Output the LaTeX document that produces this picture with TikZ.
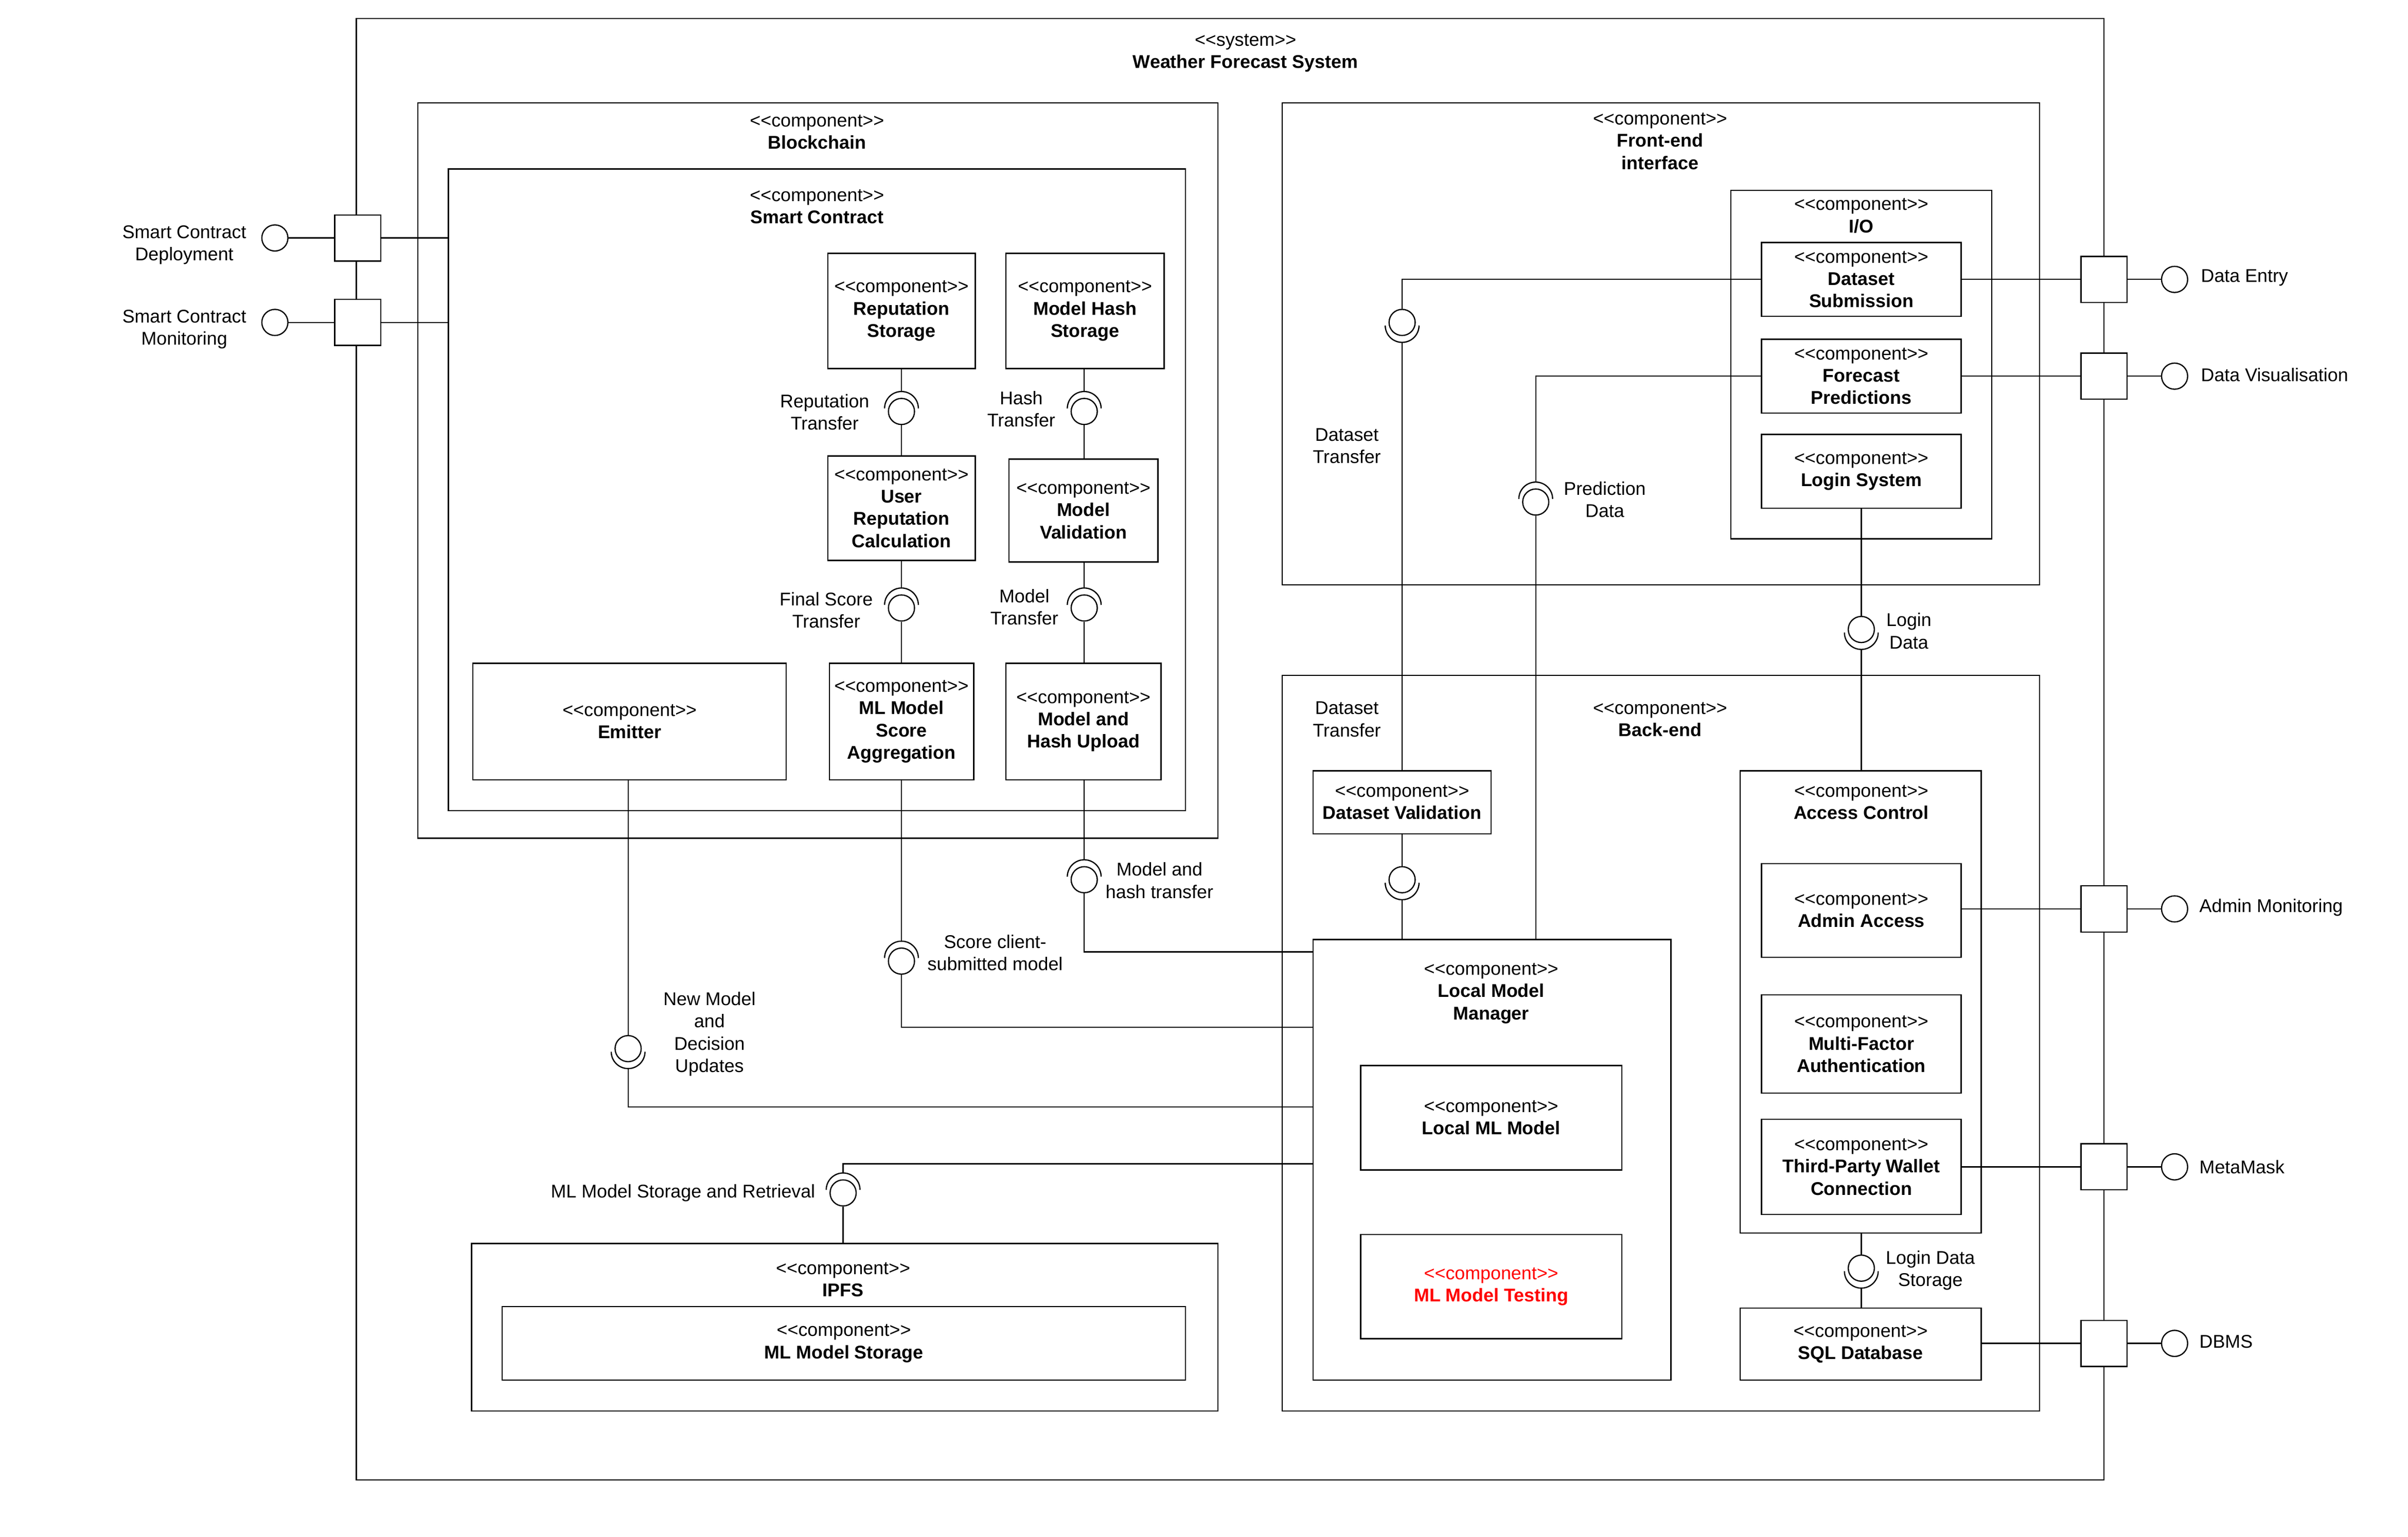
\documentclass[tikz,border=0pt]{standalone}
\usepackage{fontspec}
\setmainfont{Liberation Sans}
\usetikzlibrary{calc}
\newcommand\ltlt{<\kern0pt<}
\newcommand\gtgt{>\kern0pt>}
\newcommand\cmp{\ltlt component\gtgt}
\definecolor{mlred}{RGB}{255,0,0}
\tikzset{
  ln/.style={draw=black, line width=0.8pt},
  box/.style={draw=black, line width=0.8pt, fill=white, rectangle, inner sep=2pt, align=center},
  ttl/.style={align=center, inner sep=0pt},
  lbl/.style={align=center, inner sep=0pt},
  port/.style={draw=black, line width=0.8pt, fill=white, rectangle, minimum size=30pt, inner sep=0pt},
  lolli/.style={draw=black, line width=0.8pt, fill=white, circle, minimum size=17pt, inner sep=0pt},
}
% socket with arc above the ball
\newcommand\socktop[3]{%
  \node[lolli] (#1) at (#2,#3) {};
  \coordinate (#1-a) at (#2,#3-13);
  \draw[ln] (#2-11,#3-2) arc[start angle=180,end angle=360,radius=11];
}
% socket with arc below the ball
\newcommand\sockbot[3]{%
  \node[lolli] (#1) at (#2,#3) {};
  \coordinate (#1-a) at (#2,#3+13);
  \draw[ln] (#2-11,#3+2) arc[start angle=180,end angle=0,radius=11];
}
\begin{document}
\begin{tikzpicture}[x=1pt,y=-1pt,font=\fontsize{12}{14.5}\selectfont]
\useasboundingbox (0,0) rectangle (1568,1001);
\fill[white] (0,0) rectangle (1568,1001);

% ---------- system ----------
\node[box, minimum width=1138pt, minimum height=952pt] (sys) at (801,488) {};
\node[ttl] (systl) at (811,34.5) {\ltlt system\gtgt\\\textbf{Weather Forecast System}};

% ---------- containers ----------
\node[box, minimum width=521pt, minimum height=479pt] (bc) at (532.5,306.5) {};
\node[ttl] (bctl) at (532,86) {\cmp\\\textbf{Blockchain}};
\node[box, minimum width=480pt, minimum height=418pt] (sc) at (532,319) {};
\node[ttl] (sctl) at (532,134.5) {\cmp\\\textbf{Smart Contract}};

\node[box, minimum width=493pt, minimum height=314pt] (fe) at (1081.5,224) {};
\node[ttl] (fetl) at (1081,92) {\cmp\\\textbf{Front-end}\\\textbf{interface}};
\node[box, minimum width=170pt, minimum height=227pt] (io) at (1212,237.5) {};
\node[ttl] (iotl) at (1212,140.5) {\cmp\\\textbf{I/O}};

\node[box, minimum width=493pt, minimum height=479pt] (be) at (1081.5,679.5) {};
\node[ttl] (betl) at (1081,468.5) {\cmp\\\textbf{Back-end}};

\node[box, minimum width=486pt, minimum height=109pt] (ipfs) at (550,864.5) {};
\node[ttl] (ipfstl) at (549,833.5) {\cmp\\\textbf{IPFS}};

% ---------- ports ----------
\node[port] (pSCD) at (233,155) {};
\node[port] (pSCM) at (233,210) {};
\node[lolli] (lSCD) at (179,155) {};
\node[lolli] (lSCM) at (179,210) {};
\node[lbl] (tSCD) at (120,159.5) {Smart Contract\\Deployment};
\node[lbl] (tSCM) at (120,214.5) {Smart Contract\\Monitoring};

\node[port] (pDE) at (1370,182) {};
\node[port] (pDV) at (1370,245) {};
\node[port] (pAM) at (1370,592) {};
\node[port] (pMM) at (1370,760) {};
\node[port] (pDB) at (1370,875) {};
\node[lolli] (lDE) at (1416,182) {};
\node[lolli] (lDV) at (1416,245) {};
\node[lolli] (lAM) at (1416,592) {};
\node[lolli] (lMM) at (1416,760) {};
\node[lolli] (lDB) at (1416,875) {};
\node[lbl, anchor=west] (tDE) at (1433,181) {Data Entry};
\node[lbl, anchor=west] (tDV) at (1433,244) {Data Visualisation};
\node[lbl, anchor=west] (tAM) at (1432,591) {Admin Monitoring};
\node[lbl, anchor=west] (tMM) at (1432,760) {MetaMask};
\node[lbl, anchor=west] (tDB) at (1432,874) {DBMS};

% ---------- blockchain components ----------
\node[box, minimum width=96pt, minimum height=75pt] (rs) at (587,202.5) {\cmp\\\textbf{Reputation}\\\textbf{Storage}};
\node[box, minimum width=103pt, minimum height=75pt] (mhs) at (706.5,202.5) {\cmp\\\textbf{Model Hash}\\\textbf{Storage}};
\node[box, minimum width=96pt, minimum height=68pt] (urc) at (587,331) {\cmp\\\textbf{User}\\\textbf{Reputation}\\\textbf{Calculation}};
\node[box, minimum width=97pt, minimum height=67pt] (mv) at (705.5,332.5) {\cmp\\\textbf{Model}\\\textbf{Validation}};
\node[box, minimum width=204pt, minimum height=76pt] (em) at (410,470) {\cmp\\\textbf{Emitter}};
\node[box, minimum width=94pt, minimum height=76pt] (mlsa) at (587,470) {\cmp\\\textbf{ML Model}\\\textbf{Score}\\\textbf{Aggregation}};
\node[box, minimum width=101pt, minimum height=76pt] (mhu) at (705.5,470) {\cmp\\\textbf{Model and}\\\textbf{Hash Upload}};

% ---------- front-end components ----------
\node[box, minimum width=130pt, minimum height=48pt] (ds) at (1212,182) {\cmp\\\textbf{Dataset}\\\textbf{Submission}};
\node[box, minimum width=130pt, minimum height=48pt] (fp) at (1212,245) {\cmp\\\textbf{Forecast}\\\textbf{Predictions}};
\node[box, minimum width=130pt, minimum height=48pt] (ls) at (1212,307) {\cmp\\\textbf{Login System}};

% ---------- back-end components ----------
\node[box, minimum width=116pt, minimum height=41pt] (dv) at (913,522.5) {\cmp\\\textbf{Dataset Validation}};
\node[box, minimum width=233pt, minimum height=287pt] (lmm) at (971.5,755.5) {};
\node[ttl] (lmmtl) at (971,647) {\cmp\\\textbf{Local Model}\\\textbf{Manager}};
\node[box, minimum width=170pt, minimum height=68pt] (lml) at (971,728) {\cmp\\\textbf{Local ML Model}};
\node[box, minimum width=170pt, minimum height=68pt, text=mlred] (mlt) at (971,838) {\cmp\\\textbf{ML Model Testing}};
\node[box, minimum width=157pt, minimum height=301pt] (ac) at (1211.5,652.5) {};
\node[ttl] (actl) at (1212,522.5) {\cmp\\\textbf{Access Control}};
\node[box, minimum width=130pt, minimum height=61pt] (aa) at (1212,593) {\cmp\\\textbf{Admin Access}};
\node[box, minimum width=130pt, minimum height=64pt] (mfa) at (1212,680) {\cmp\\\textbf{Multi-Factor}\\\textbf{Authentication}};
\node[box, minimum width=130pt, minimum height=62pt] (tpw) at (1212,760) {\cmp\\\textbf{Third-Party Wallet}\\\textbf{Connection}};
\node[box, minimum width=157pt, minimum height=47pt] (sql) at (1211.5,875.5) {\cmp\\\textbf{SQL Database}};

% ---------- IPFS component ----------
\node[box, minimum width=445pt, minimum height=48pt] (mls) at (549.5,875) {\cmp\\\textbf{ML Model Storage}};

% ---------- sockets ----------
\socktop{sRT}{587}{268}
\socktop{sHT}{706}{268}
\socktop{sFS}{587}{396}
\socktop{sMT}{706}{396}
\sockbot{sDT}{913}{210}
\socktop{sPD}{1000}{327}
\sockbot{sLD}{1212}{410}
\socktop{sMH}{706}{573}
\socktop{sSC}{587}{626}
\sockbot{sNM}{409}{683}
\socktop{sML}{549}{777}
\sockbot{sDV}{913}{573}
\sockbot{sLS}{1212}{826}

% socket labels
\node[lbl] (tRT) at (537,268.5) {Reputation\\Transfer};
\node[lbl] (tHT) at (665,266.5) {Hash\\Transfer};
\node[lbl] (tFS) at (538,397.5) {Final Score\\Transfer};
\node[lbl] (tMT) at (667,395.5) {Model\\Transfer};
\node[lbl] (tDT) at (877,290.5) {Dataset\\Transfer};
\node[lbl] (tDT2) at (877,468.5) {Dataset\\Transfer};
\node[lbl] (tPD) at (1045,325.5) {Prediction\\Data};
\node[lbl] (tLD) at (1243,411) {Login\\Data};
\node[lbl] (tMH) at (755,573.5) {Model and\\hash transfer};
\node[lbl] (tSC) at (648,620.5) {Score client-\\submitted model};
\node[lbl] (tNM) at (462,673.5) {New Model\\and\\Decision\\Updates};
\node[lbl, anchor=east] (tML) at (531,777) {ML Model Storage and Retrieval};
\node[lbl] (tLS) at (1257,827.5) {Login Data\\Storage};

% ---------- connectors ----------
% left ports
\draw[ln] (lSCD) -- (pSCD);
\draw[ln] (pSCD.east) -- (pSCD.east -| sc.west);
\draw[ln] (lSCM) -- (pSCM);
\draw[ln] (pSCM.east) -- (pSCM.east -| sc.west);
% right ports
\draw[ln] (ds.east) -- (pDE.west);
\draw[ln] (pDE) -- (lDE);
\draw[ln] (fp.east) -- (pDV.west);
\draw[ln] (pDV) -- (lDV);
\draw[ln] (aa.east |- pAM) -- (pAM.west);
\draw[ln] (pAM) -- (lAM);
\draw[ln] (tpw.east) -- (tpw.east -| pMM.west);
\draw[ln] (pMM) -- (lMM);
\draw[ln] (sql.east |- pDB) -- (pDB.west);
\draw[ln] (pDB) -- (lDB);

% smart contract internals
\draw[ln] (rs.south) -- (sRT-a);
\draw[ln] (sRT.south) -- (urc.north);
\draw[ln] (mhs.south -| sHT) -- (sHT-a);
\draw[ln] (sHT.south) -- (sHT.south |- mv.north);
\draw[ln] (urc.south) -- (sFS-a);
\draw[ln] (sFS.south) -- (mlsa.north);
\draw[ln] (mv.south -| sMT) -- (sMT-a);
\draw[ln] (sMT.south) -- (sMT.south |- mhu.north);

% blockchain to local model manager
\draw[ln] (mhu.south -| sMH) -- (sMH-a);
\draw[ln] (sMH.south) |- (lmm.west |- 0,620);
\draw[ln] (mlsa.south) -- (sSC-a);
\draw[ln] (sSC.south) |- (lmm.west |- 0,669);
\draw[ln] (em.south -| sNM) -- (sNM.north);
\draw[ln] (sNM-a) |- (lmm.west |- 0,721);
\draw[ln] (sML.south) -- (sML.south |- ipfs.north);
\draw[ln] (sML-a) |- (lmm.west |- 0,758);

% front-end to back-end
\draw[ln] (ds.west) -| (sDT.north);
\draw[ln] (sDT-a) -- (dv.north);
\draw[ln] (fp.west) -| (sPD-a);
\draw[ln] (sPD.south) -- (sPD.south |- lmm.north);
\draw[ln] (ls.south) -- (sLD.north);
\draw[ln] (sLD-a) -- (sLD-a |- ac.north);
\draw[ln] (dv.south) -- (sDV.north);
\draw[ln] (sDV-a) -- (sDV-a |- lmm.north);
\draw[ln] (ac.south -| sLS) -- (sLS.north);
\draw[ln] (sLS-a) -- (sLS-a |- sql.north);
\end{tikzpicture}
\end{document}
